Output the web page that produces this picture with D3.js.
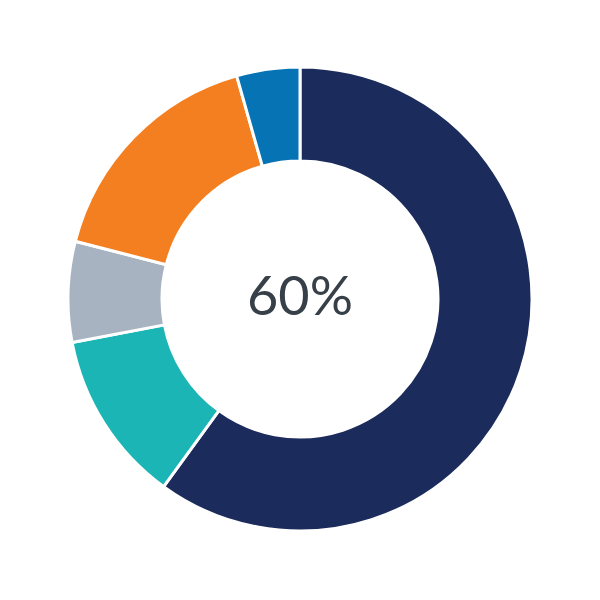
<!DOCTYPE html>
<html><head><meta charset="utf-8">
<script src="https://cdn.jsdelivr.net/npm/d3@7"></script>
<style>html,body{margin:0;padding:0;background:#fff;}</style>
</head><body>
<svg id="c" width="600" height="600"></svg>
<script>
const categories = ["A","B","C","D","E"];
const values = [60, 12, 7, 16.6, 4.4];
const colors = ["#1b2b5b", "#1bb5b6", "#a8b3c1", "#f47f21", "#0573b4"];
const centerLabel = "60%";

const svg = d3.select("#c");
const g = svg.append("g").attr("transform","translate(300,299)");
const pie = d3.pie().sort(null).value(d=>d.v);
const arc = d3.arc().innerRadius(138).outerRadius(232);
const data = categories.map((c,i)=>({c, v: values[i], col: colors[i]}));
g.selectAll("path").data(pie(data)).join("path")
  .attr("d", arc)
  .attr("fill", d=>d.data.col)
  .attr("stroke","#fff")
  .attr("stroke-width",3);
g.append("text").text(centerLabel)
  .attr("text-anchor","middle")
  .attr("y", 16)
  .attr("font-family","Lato, sans-serif")
  .attr("font-weight", 400)
  .attr("font-size", 54)
  .attr("fill","#373f48");
</script>
</body></html>
